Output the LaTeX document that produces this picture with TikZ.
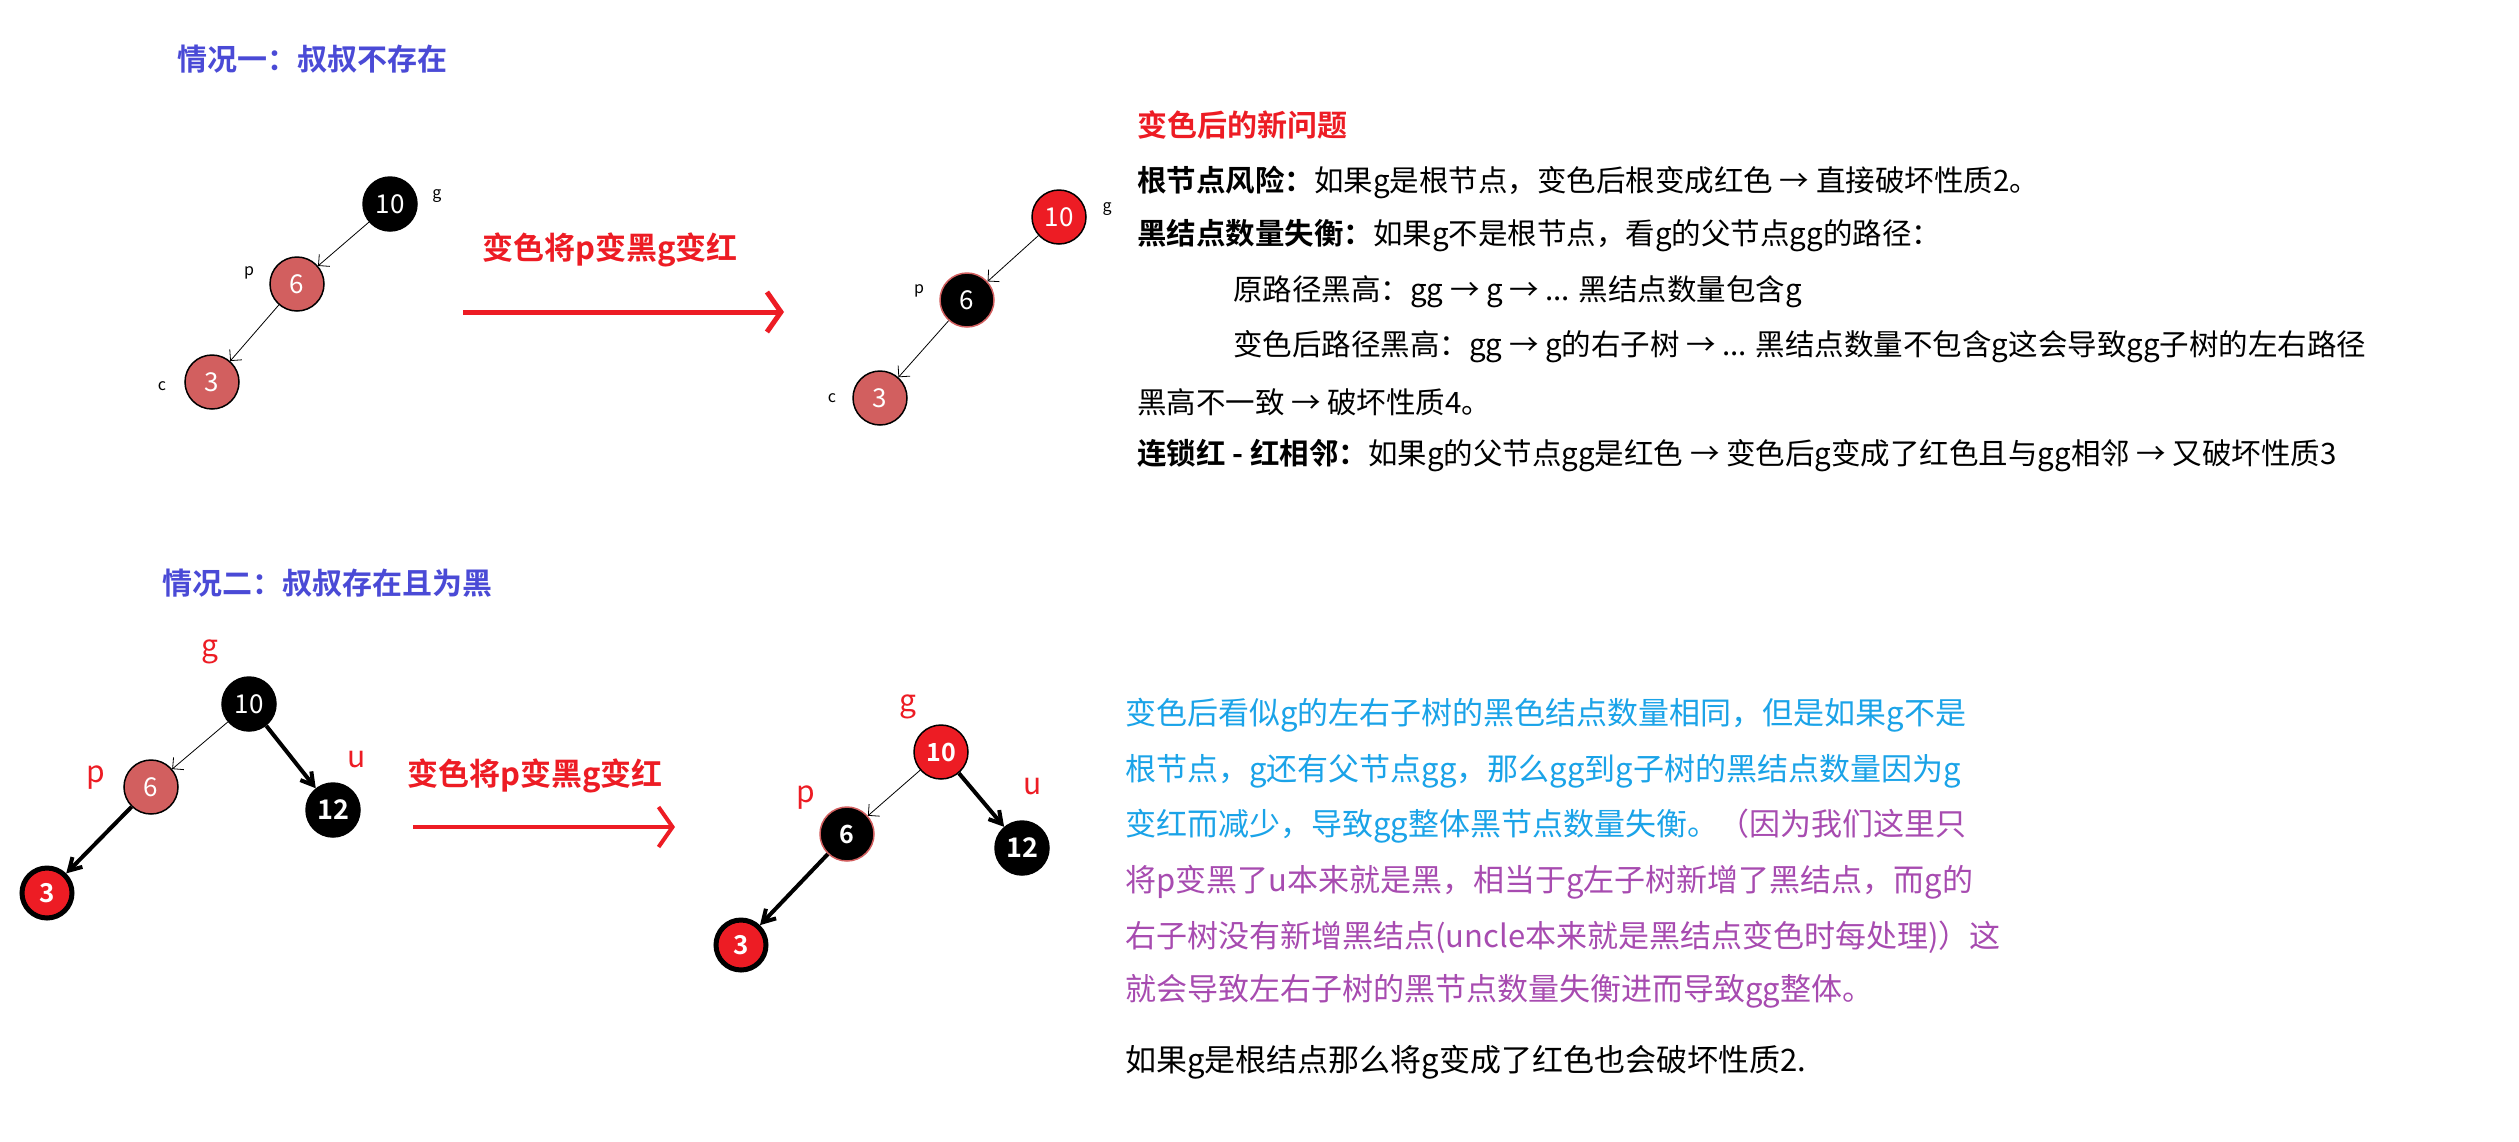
\documentclass[tikz,border=0pt]{standalone}
\usepackage{fontspec}
\setmainfont{Noto Sans CJK SC}[BoldFont={Noto Sans CJK SC Bold}]
\usetikzlibrary{arrows.meta}
\definecolor{ttl}{HTML}{4A4AD6}
\definecolor{rd}{HTML}{ED1C24}
\definecolor{lr}{HTML}{D25F5F}
\definecolor{bl}{HTML}{1AA3E8}
\definecolor{pu}{HTML}{A74BB0}
\begin{document}
\begin{tikzpicture}[x=1pt,y=-1pt,
  nd/.style={circle,draw=black,line width=1.5pt,minimum size=54pt,inner sep=0pt,text=white,font=\fontsize{26}{26}\selectfont},
  blk/.style={nd,fill=black},
  lrd/.style={nd,fill=lr},
  rdn/.style={nd,fill=rd},
  rdb/.style={nd,fill=rd,line width=5pt,minimum size=50pt,font=\bfseries\fontsize{26}{26}\selectfont},
  bkr/.style={nd,fill=black,draw=lr},
  lab/.style={font=\fontsize{16}{16}\selectfont},
  rlab/.style={text=rd,font=\fontsize{30}{30}\selectfont},
  thin/.style={-{Straight Barb[length=8pt]},line width=0.8pt},
  thk/.style={-{Straight Barb[length=12pt,width=14pt]},line width=4pt},
  txt/.style={anchor=west,inner sep=0pt,font=\fontsize{29.5}{29.5}\selectfont},
  txt2/.style={anchor=west,inner sep=0pt,font=\fontsize{31}{31}\selectfont},
  ttlst/.style={anchor=west,inner sep=0pt,text=ttl,font=\bfseries\fontsize{30}{30}\selectfont},
  arrlab/.style={text=rd,font=\bfseries\fontsize{31}{31}\selectfont},
  bigarr/.style={-{Straight Barb[length=14pt,width=40pt]},draw=rd,line width=5pt}]
\useasboundingbox (0,0) rectangle (2519,1141);
\fill[white] (0,0) rectangle (2519,1141);
% case 1
\node[ttlst] (t1) at (177,59) {情况一：叔叔不存在};
\node[blk] (g1) at (390,204) {10};
\node[lrd] (p1) at (297,284) {6};
\node[lrd] (c1) at (212,382) {3};
\node[lab] at (437,196) {g};
\node[lab] at (249,273) {p};
\node[lab] at (162,386) {c};
\draw[thin] (g1) -- (p1);
\draw[thin] (p1) -- (c1);
\coordinate (a1s) at (463,312); \coordinate (a1e) at (784,312);
\draw[bigarr] (a1s) -- (a1e);
\node[arrlab] at (610,250) {变色将p变黑g变红};
\node[rdn] (g1r) at (1059,217) {10};
\node[bkr] (p1r) at (967,300) {6};
\node[lrd] (c1r) at (880,398) {3};
\node[lab] at (1107,209) {g};
\node[lab] at (919,291) {p};
\node[lab] at (832,398) {c};
\draw[thin] (g1r) -- (p1r);
\draw[thin] (p1r) -- (c1r);
% right text top
\node[txt,text=rd,font=\bfseries\fontsize{30}{30}\selectfont] at (1137,125) {变色后的新问题};
\node[txt] at (1137,182) {\textbf{根节点风险：}如果g是根节点，变色后根变成红色 → 直接破坏性质2。};
\node[txt] at (1137,236) {\textbf{黑结点数量失衡：}如果g不是根节点，看g的父节点gg的路径：};
\node[txt] at (1233,292) {原路径黑高：gg → g → ... 黑结点数量包含g};
\node[txt] at (1233,347) {变色后路径黑高：gg → g的右子树 → ... 黑结点数量不包含g这会导致gg子树的左右路径};
\node[txt] at (1137,402) {黑高不一致 → 破坏性质4。};
\node[txt] at (1137,456) {\textbf{连锁红 - 红相邻：}如果g的父节点gg是红色 → 变色后g变成了红色且与gg相邻 → 又破坏性质3};
% case 2
\node[ttlst] (t2) at (162,583) {情况二：叔叔存在且为黑};
\node[blk] (g2) at (249,704) {10};
\node[lrd] (p2) at (151,787) {6};
\node[blk,font=\bfseries\fontsize{27}{27}\selectfont] (u2) at (333,810) {12};
\node[rdb] (c2) at (47,893) {3};
\node[rlab] at (210,652) {g};
\node[rlab] at (96,778) {p};
\node[rlab] at (357,760) {u};
\draw[thin] (g2) -- (p2);
\draw[thk] (g2) -- (u2);
\draw[thk] (p2) -- (c2);
\coordinate (a2s) at (413,827); \coordinate (a2e) at (675,827);
\draw[bigarr,line width=4pt] (a2s) -- (a2e);
\node[arrlab] at (535,776) {变色将p变黑g变红};
\node[rdn,font=\bfseries\fontsize{25}{25}\selectfont] (g2r) at (941,752) {10};
\node[bkr,font=\bfseries\fontsize{25}{25}\selectfont] (p2r) at (847,834) {6};
\node[blk,font=\bfseries\fontsize{27}{27}\selectfont] (u2r) at (1022,848) {12};
\node[rdb] (c2r) at (741,945) {3};
\node[rlab] at (908,707) {g};
\node[rlab] at (806,798) {p};
\node[rlab] at (1033,787) {u};
\draw[thin] (g2r) -- (p2r);
\draw[thk] (g2r) -- (u2r);
\draw[thk] (p2r) -- (c2r);
% right text bottom
\node[txt2,text=bl] at (1125,715) {变色后看似g的左右子树的黑色结点数量相同，但是如果g不是};
\node[txt2,text=bl] at (1125,771) {根节点，g还有父节点gg，那么gg到g子树的黑结点数量因为g};
\node[txt2,text=bl] at (1125,826) {变红而减少，导致gg整体黑节点数量失衡。\textcolor{pu}{（因为我们这里只}};
\node[txt2,text=pu] at (1125,882) {将p变黑了u本来就是黑，相当于g左子树新增了黑结点，而g的};
\node[txt2,text=pu] at (1125,937) {右子树没有新增黑结点(uncle本来就是黑结点变色时每处理)）这};
\node[txt2,text=pu] at (1125,991) {就会导致左右子树的黑节点数量失衡进而导致gg整体。};
\node[txt2] at (1125,1062) {如果g是根结点那么将g变成了红色也会破坏性质2.};
\end{tikzpicture}
\end{document}
